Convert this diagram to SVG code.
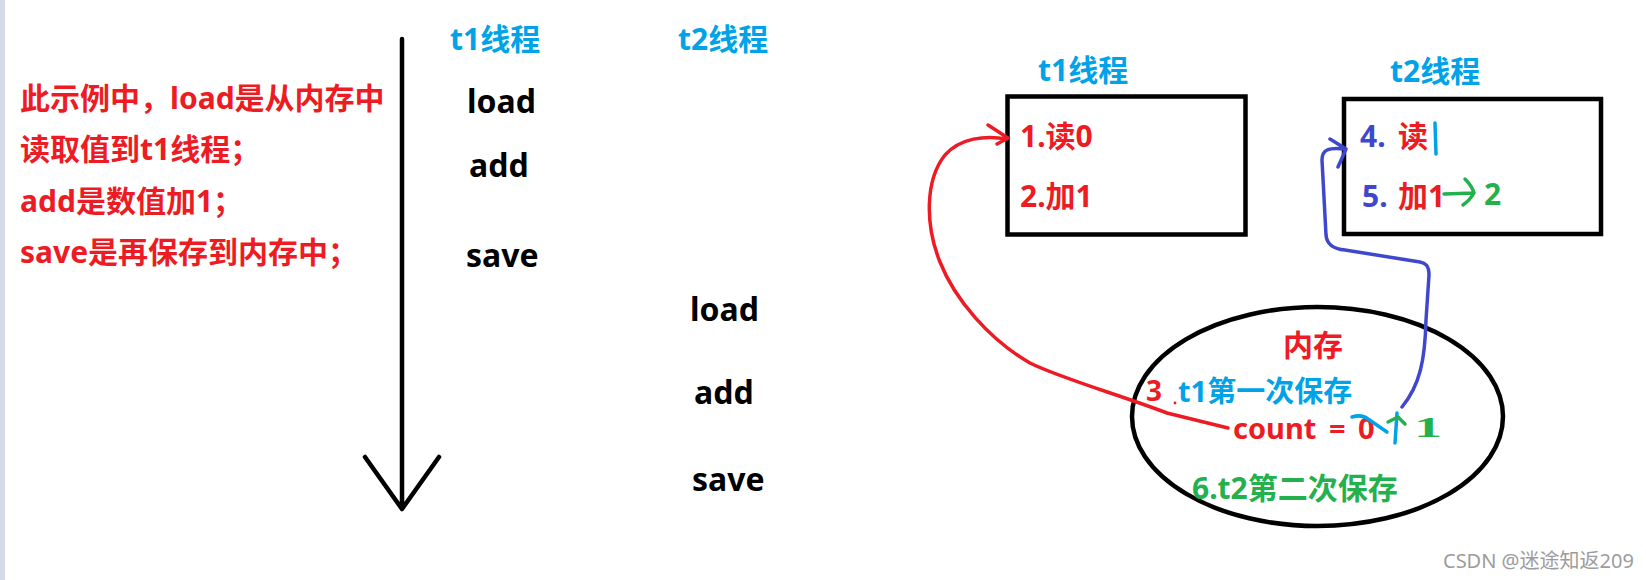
<svg xmlns="http://www.w3.org/2000/svg" width="1646" height="580" viewBox="0 0 1646 580">
<style>
text{font-family:"Noto Sans","Noto Sans CJK SC",sans-serif;font-weight:700;font-size:30px}
.red{fill:#ed1c24}.tq{fill:#00a2e8}.ind{fill:#3f48cc}.grn{fill:#22b14c}.blk{fill:#000}
.lbl{font-size:32px}
.box{fill:none;stroke:#000;stroke-width:4.5}
.ink{fill:none;stroke-width:3.5;stroke-linecap:round;stroke-linejoin:round}
.wm{font-weight:400;font-size:20px;fill:#9c9c9c}
</style>
<rect x="0" y="0" width="1646" height="580" fill="#fff"/>
<rect x="0" y="0" width="5" height="580" fill="#d4dbe8"/>

<g id="notes">
<text class="red" x="20" y="109">此示例中，load是从内存中</text>
<text class="red" x="20" y="160">读取值到t1线程；</text>
<text class="red" x="20" y="212">add是数值加1；</text>
<text class="red" x="20" y="263">save是再保存到内存中；</text>
</g>

<g id="timeline">
<path d="M402,39 L402,509 M365,457 L402,509 L439,457" fill="none" stroke="#000" stroke-width="4.5" stroke-linecap="round" stroke-linejoin="round"/>
</g>

<g id="t1-column">
<text class="tq" x="450" y="50">t1线程</text>
<text class="blk lbl" x="467" y="113">load</text>
<text class="blk lbl" x="469" y="177">add</text>
<text class="blk lbl" x="466" y="267">save</text>
</g>

<g id="t2-column">
<text class="tq" x="678" y="50">t2线程</text>
<text class="blk lbl" x="690" y="321">load</text>
<text class="blk lbl" x="694" y="404">add</text>
<text class="blk lbl" x="692" y="491">save</text>
</g>

<g id="t1-box">
<text class="tq" x="1038" y="81">t1线程</text>
<rect class="box" x="1007.5" y="96.5" width="238" height="138"/>
<text class="red" x="1020" y="147">1.读0</text>
<text class="red" x="1020" y="207">2.加1</text>
</g>

<g id="t2-box">
<text class="tq" x="1390" y="82">t2线程</text>
<rect class="box" x="1344" y="99" width="257" height="135"/>
<text x="1360" y="147"><tspan class="ind">4. </tspan><tspan class="red" x="1398">读</tspan></text>
<path class="ink" d="M1435,123 L1436,154" stroke="#00a2e8" stroke-width="4"/>
<text x="1362" y="207"><tspan class="ind">5. </tspan><tspan class="red" x="1398">加1</tspan></text>
<path class="ink" d="M1444,194 L1474,193 M1465,179 Q1472,186 1474,193 Q1470,200 1463,205" stroke="#22b14c" stroke-width="4"/>
<text class="grn" x="1484" y="205">2</text>
</g>

<g id="memory">
<ellipse cx="1317.5" cy="416.5" rx="185.5" ry="109.5" fill="none" stroke="#000" stroke-width="4.5"/>
<text class="red" x="1283" y="356">内存</text>
<text class="red" x="1146" y="401" style="font-size:28px">3</text>
<circle cx="1175" cy="403" r="1.4" fill="#ed1c24"/>
<text class="tq" x="1178" y="402" style="font-size:29px">t1第一次保存</text>
<text class="red" y="439" style="font-size:29px"><tspan x="1233">count</tspan><tspan x="1329">=</tspan><tspan x="1358">0</tspan></text>
<path class="ink" d="M1352,417 Q1362,414 1368,419 L1387,432 M1397,413 L1395,443" stroke="#00a2e8"/>
<path class="ink" d="M1388,422 L1398,417 L1405,424" stroke="#22b14c"/>
<text class="grn" x="1414" y="437" style="font-family:'Liberation Serif',serif" textLength="28" lengthAdjust="spacingAndGlyphs">1</text>
<text class="grn" x="1192" y="499">6.t2第二次保存</text>
</g>

<g id="connectors">
<path class="ink" stroke="#ed1c24" d="M1228,428 L1167,413 C1120,395 1060,378 1030,363 C990,340 955,300 940,262 C925,225 925,180 945,155 C960,138 985,135 1007,139 M988,125 L1008,138 L997,144"/>
<path class="ink" stroke="#3f48cc" d="M1402,407 C1420,385 1425,360 1426,320 L1429,275 C1429,265 1425,263 1420,262 L1345,250 C1335,249 1327,246 1326,235 L1322,160 C1322,150 1328,147 1345,149 M1330,139 L1346,149 L1338,167"/>
</g>

<g id="watermark">
<text class="wm" x="1443" y="568">CSDN @迷途知返209</text>
</g>
</svg>
